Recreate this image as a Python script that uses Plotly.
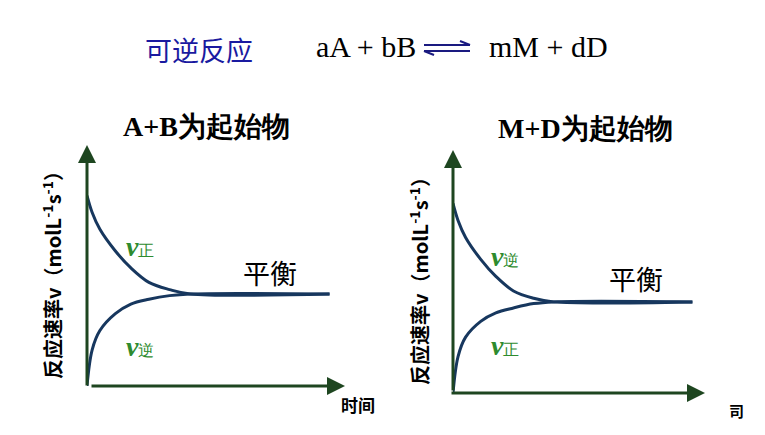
import plotly.graph_objects as go

W, H = 765, 435
OFF = 8  # page body offset compensation
# left panel data (time vs rate)
t_left = [0, 0.2, 0.5, 1.1, 1.7, 2.4, 3.2, 4.0, 9.4]
v_forward_left = [7.9, 7.2, 6.5, 5.6, 4.9, 4.3, 4.0, 3.82, 3.82]
v_reverse_left = [0, 1.5, 2.3, 3.0, 3.4, 3.6, 3.75, 3.82, 3.82]
# right panel data
t_right = [0, 0.2, 0.5, 1.1, 1.7, 2.4, 3.2, 4.0, 9.5]
v_reverse_right = [7.8, 7.1, 6.4, 5.5, 4.8, 4.2, 3.9, 3.75, 3.75]
v_forward_right = [0, 1.5, 2.3, 2.95, 3.3, 3.5, 3.68, 3.75, 3.75]

LINE = "#17375e"
AX = "#1e4620"
GREEN = "#2e8b2e"

def X(p): return (p - OFF) / W
def Y(p): return 1 - (p - OFF) / H

fig = go.Figure()
for xs, ys, xa, ya in [(t_left, v_forward_left, "x", "y"), (t_left, v_reverse_left, "x", "y"),
                       (t_right, v_reverse_right, "x2", "y2"), (t_right, v_forward_right, "x2", "y2")]:
    fig.add_trace(go.Scatter(x=xs, y=ys, mode="lines", line=dict(color=LINE, width=3, shape="spline"),
                             xaxis=xa, yaxis=ya, showlegend=False, hoverinfo="skip"))

ax_common = dict(showgrid=False, zeroline=False, showticklabels=False, ticks="", range=[0, 10],
                 showline=False, fixedrange=True)
fig.update_layout(
    width=W, height=H, margin=dict(l=0, r=0, t=0, b=0), plot_bgcolor="white", paper_bgcolor="white",
    xaxis=dict(domain=[X(87), X(345)], anchor="y", **ax_common),
    yaxis=dict(domain=[Y(386), Y(145)], anchor="x", **ax_common),
    xaxis2=dict(domain=[X(453), X(705)], anchor="y2", **ax_common),
    yaxis2=dict(domain=[Y(393), Y(150)], anchor="x2", **ax_common),
)

for xr, yr in [("x", "y"), ("x2", "y2")]:
    fig.add_annotation(x=0, y=10, xref=xr, yref=yr, ax=0, ay=242, showarrow=True, arrowhead=2,
                       arrowsize=1.2, arrowwidth=3, arrowcolor=AX, text="")
    fig.add_annotation(x=10, y=0, xref=xr, yref=yr, ax=-255, ay=0, showarrow=True, arrowhead=2,
                       arrowsize=1.2, arrowwidth=3, arrowcolor=AX, text="")

def txt(x, y, s, size, color="black", family="Noto Sans CJK SC", angle=0):
    fig.add_annotation(x=X(x), y=Y(y), xref="paper", yref="paper", text=s, showarrow=False,
                       xanchor="center", yanchor="middle",
                       font=dict(size=size, color=color, family=family), textangle=angle)

txt(199, 50, "可逆反应", 27, "#1a1aa0", "Noto Sans CJK SC")
txt(366, 47, "aA + bB", 30, "black", "Liberation Serif")
txt(548, 47, "mM + dD", 30, "black", "Liberation Serif")
for (x0, y0, x1, y1) in [(424, 45, 470, 45), (424, 51, 470, 51), (460, 41, 470, 45), (424, 51, 434, 55)]:
    fig.add_shape(type="line", xref="paper", yref="paper", x0=X(x0), x1=X(x1), y0=Y(y0), y1=Y(y1),
                  line=dict(color="#1a1a80", width=2))

txt(206, 127, "<b>A+B为起始物</b>", 28, "black", "Liberation Serif")
txt(585, 128, "<b>M+D为起始物</b>", 28, "black", "Liberation Serif")
ytitle = "<b>反应速率v（molL<sup>-1</sup>s<sup>-1</sup>）</b>"
txt(52, 270, ytitle, 20, "black", "Noto Sans CJK SC", -90)
txt(419, 276, ytitle, 20, "black", "Noto Sans CJK SC", -90)
txt(270, 272, "平衡", 27)
txt(636, 278, "平衡", 27)
txt(358, 404, "<b>时间</b>", 17)
txt(736, 410, "<b>司</b>", 15)
def vlab(x, y, sub):
    txt(x, y, f"<b><i>v</i></b><span style='font-size:16px'>{sub}</span>", 28, GREEN, "Liberation Serif")
vlab(140, 246, "正")
vlab(140, 346, "逆")
vlab(505, 256, "逆")
vlab(505, 345, "正")

fig.write_html("out.html")
